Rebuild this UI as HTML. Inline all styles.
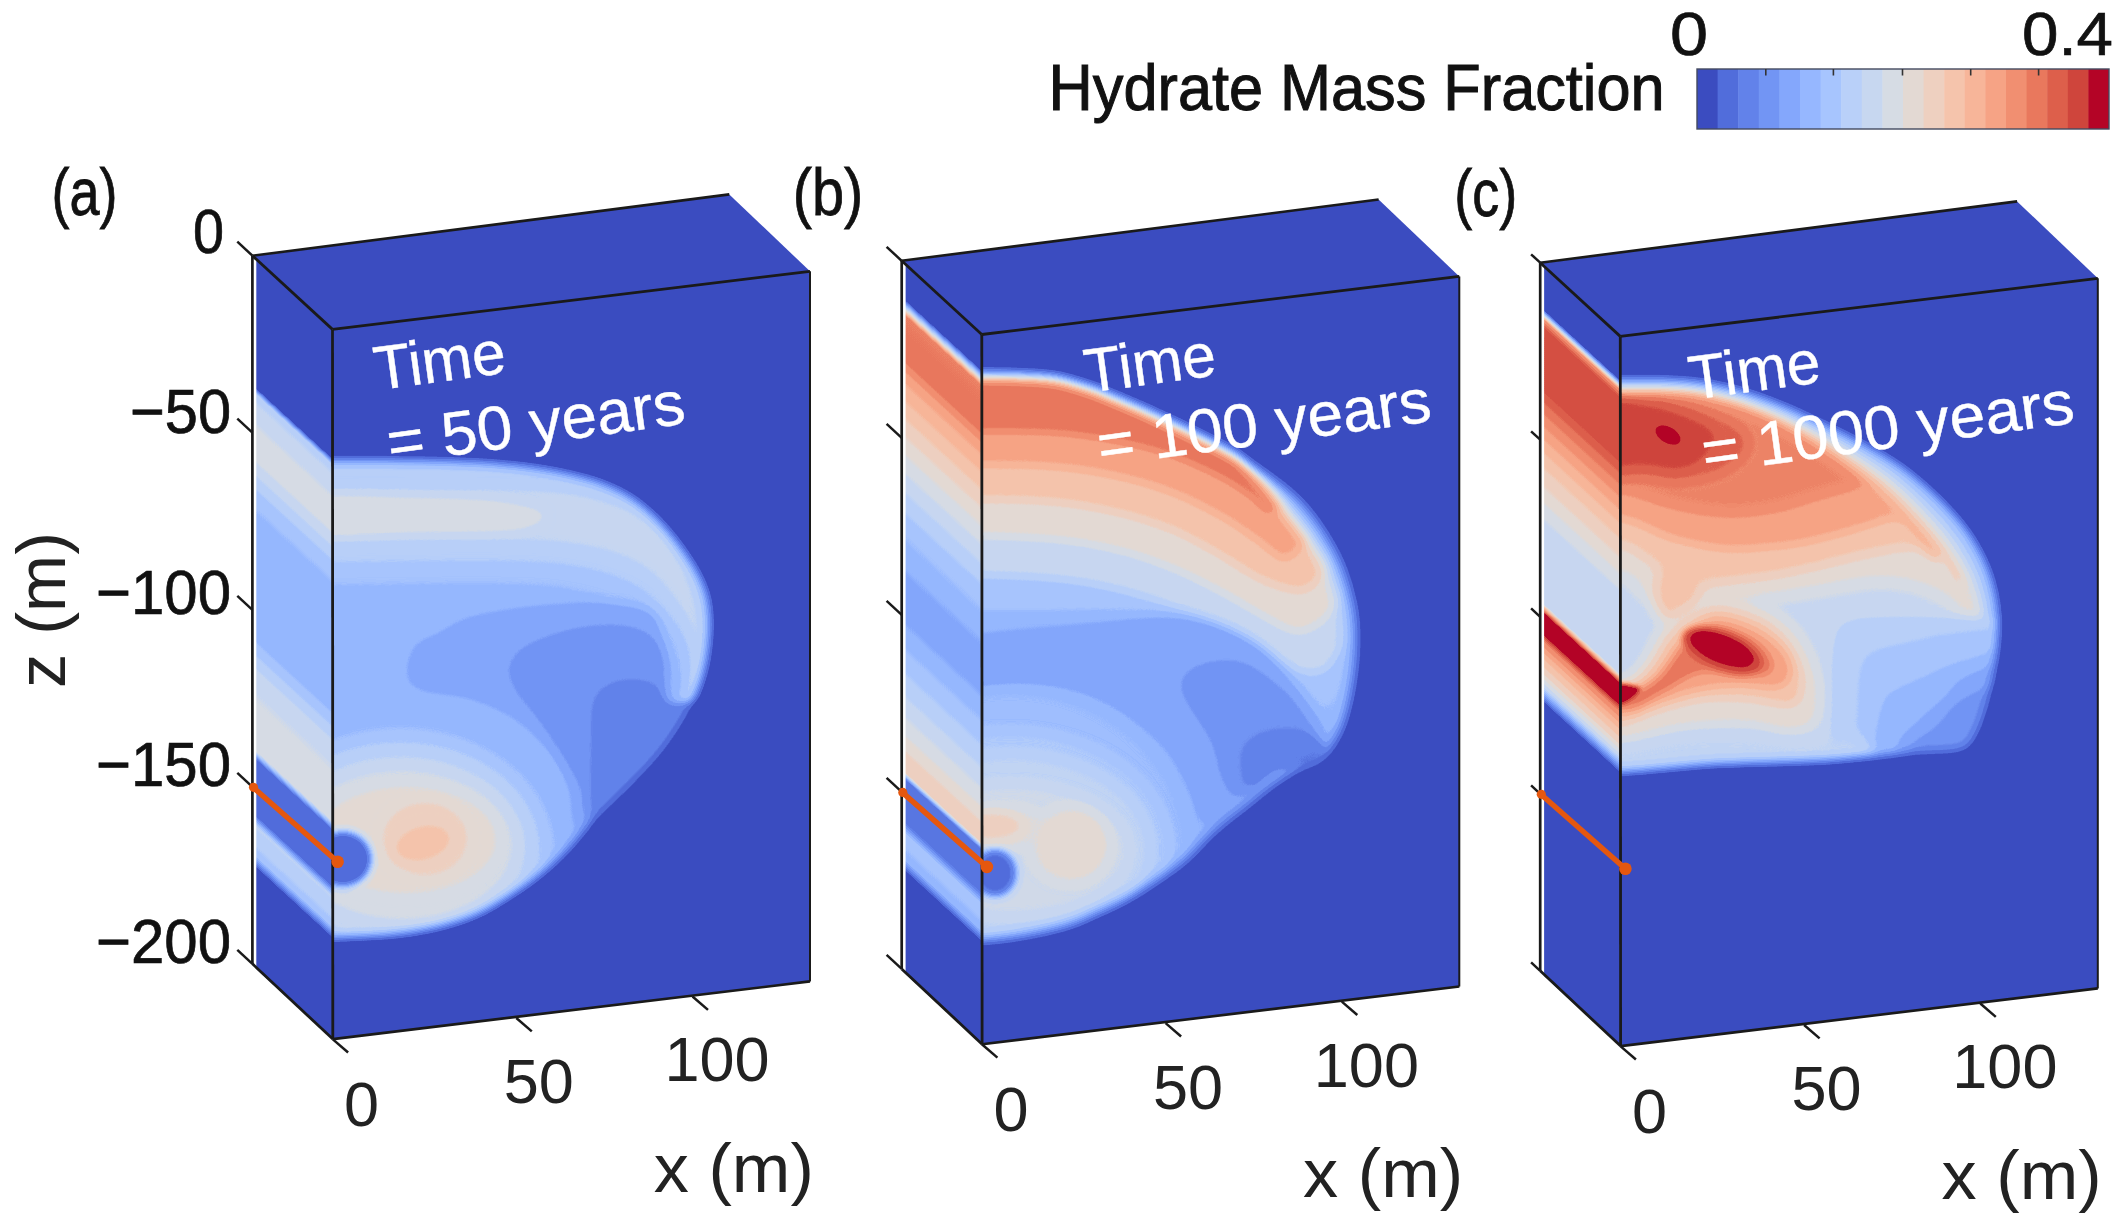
<!DOCTYPE html>
<html lang="en"><head><meta charset="utf-8"><title>Hydrate Mass Fraction</title>
<style>html,body{margin:0;padding:0;background:#fff;overflow:hidden}svg{display:block}text{font-family:"Liberation Sans",sans-serif}</style></head><body>
<svg width="2120" height="1222" viewBox="0 0 2120 1222">
<defs>
<filter id="cm" x="0" y="0" width="2120" height="1222" filterUnits="userSpaceOnUse" color-interpolation-filters="sRGB"><feComponentTransfer><feFuncR type="table" tableValues="0.2298 0.2298 0.2298 0.2298 0.3188 0.3188 0.3188 0.3188 0.3837 0.3837 0.3837 0.3837 0.4464 0.4464 0.4464 0.4464 0.5163 0.5163 0.5163 0.5163 0.5869 0.5869 0.5869 0.5869 0.6567 0.6567 0.6567 0.6567 0.7240 0.7240 0.7240 0.7240 0.7820 0.7820 0.7820 0.7820 0.8394 0.8394 0.8394 0.8394 0.8918 0.8918 0.8918 0.8918 0.9332 0.9332 0.9332 0.9332 0.9595 0.9595 0.9595 0.9595 0.9689 0.9689 0.9689 0.9689 0.9649 0.9649 0.9649 0.9649 0.9459 0.9459 0.9459 0.9459 0.9120 0.9120 0.9120 0.9120 0.8654 0.8654 0.8654 0.8654 0.8106 0.8106 0.8106 0.8106 0.7057 0.7057 0.7057 0.7057"/><feFuncG type="table" tableValues="0.2987 0.2987 0.2987 0.2987 0.4266 0.4266 0.4266 0.4266 0.5102 0.5102 0.5102 0.5102 0.5824 0.5824 0.5824 0.5824 0.6545 0.6545 0.6545 0.6545 0.7181 0.7181 0.7181 0.7181 0.7718 0.7718 0.7718 0.7718 0.8149 0.8149 0.8149 0.8149 0.8429 0.8429 0.8429 0.8429 0.8612 0.8612 0.8612 0.8612 0.8520 0.8520 0.8520 0.8520 0.8156 0.8156 0.8156 0.8156 0.7670 0.7670 0.7670 0.7670 0.7108 0.7108 0.7108 0.7108 0.6402 0.6402 0.6402 0.6402 0.5596 0.5596 0.5596 0.5596 0.4697 0.4697 0.4697 0.4697 0.3711 0.3711 0.3711 0.3711 0.2688 0.2688 0.2688 0.2688 0.0156 0.0156 0.0156 0.0156"/><feFuncB type="table" tableValues="0.7537 0.7537 0.7537 0.7537 0.8599 0.8599 0.8599 0.8599 0.9178 0.9178 0.9178 0.9178 0.9574 0.9574 0.9574 0.9574 0.9864 0.9864 0.9864 0.9864 0.9989 0.9989 0.9989 0.9989 0.9949 0.9949 0.9949 0.9949 0.9757 0.9757 0.9757 0.9757 0.9430 0.9430 0.9430 0.9430 0.8945 0.8945 0.8945 0.8945 0.8291 0.8291 0.8291 0.8291 0.7532 0.7532 0.7532 0.7532 0.6741 0.6741 0.6741 0.6741 0.5999 0.5999 0.5999 0.5999 0.5198 0.5198 0.5198 0.5198 0.4415 0.4415 0.4415 0.4415 0.3666 0.3666 0.3666 0.3666 0.2958 0.2958 0.2958 0.2958 0.2354 0.2354 0.2354 0.2354 0.1502 0.1502 0.1502 0.1502"/></feComponentTransfer></filter>
<filter id="b2" x="-400" y="-400" width="2920" height="2022" filterUnits="userSpaceOnUse" color-interpolation-filters="sRGB"><feGaussianBlur stdDeviation="2"/></filter>
<filter id="b3" x="-400" y="-400" width="2920" height="2022" filterUnits="userSpaceOnUse" color-interpolation-filters="sRGB"><feGaussianBlur stdDeviation="3"/></filter>
<filter id="b4" x="-400" y="-400" width="2920" height="2022" filterUnits="userSpaceOnUse" color-interpolation-filters="sRGB"><feGaussianBlur stdDeviation="4"/></filter>
<filter id="b4_5" x="-400" y="-400" width="2920" height="2022" filterUnits="userSpaceOnUse" color-interpolation-filters="sRGB"><feGaussianBlur stdDeviation="4.5"/></filter>
<filter id="b5" x="-400" y="-400" width="2920" height="2022" filterUnits="userSpaceOnUse" color-interpolation-filters="sRGB"><feGaussianBlur stdDeviation="5"/></filter>
<filter id="b5_5" x="-400" y="-400" width="2920" height="2022" filterUnits="userSpaceOnUse" color-interpolation-filters="sRGB"><feGaussianBlur stdDeviation="5.5"/></filter>
<filter id="b6" x="-400" y="-400" width="2920" height="2022" filterUnits="userSpaceOnUse" color-interpolation-filters="sRGB"><feGaussianBlur stdDeviation="6"/></filter>
<filter id="b7" x="-400" y="-400" width="2920" height="2022" filterUnits="userSpaceOnUse" color-interpolation-filters="sRGB"><feGaussianBlur stdDeviation="7"/></filter>
<filter id="b8" x="-400" y="-400" width="2920" height="2022" filterUnits="userSpaceOnUse" color-interpolation-filters="sRGB"><feGaussianBlur stdDeviation="8"/></filter>
<clipPath id="cf0"><polygon points="332.5,329.4 810.0,271.3 810.0,981.4 332.8,1039.1"/></clipPath>
<mask id="mk0" maskUnits="userSpaceOnUse" x="0" y="0" width="2120" height="1222"><g filter="url(#b4_5)"><path d="M290.0,461.0 C307.0,461.0 358.2,460.5 392.0,461.0 C425.8,461.5 463.3,461.7 493.0,464.0 C522.7,466.3 548.8,470.3 570.0,475.0 C591.2,479.7 605.8,484.8 620.0,492.0 C634.2,499.2 644.3,507.8 655.0,518.0 C665.7,528.2 676.0,541.5 684.0,553.0 C692.0,564.5 698.8,575.8 703.0,587.0 C707.2,598.2 708.7,607.2 709.0,620.0 C709.3,632.8 708.0,650.0 705.0,664.0 C702.0,678.0 697.5,690.5 691.0,704.0 C684.5,717.5 675.5,732.2 666.0,745.0 C656.5,757.8 646.2,768.3 634.0,781.0 C621.8,793.7 606.0,807.8 593.0,821.0 C580.0,834.2 568.7,848.5 556.0,860.0 C543.3,871.5 531.7,880.5 517.0,890.0 C502.3,899.5 486.3,910.0 468.0,917.0 C449.7,924.0 429.0,928.7 407.0,932.0 C385.0,935.3 355.5,936.0 336.0,937.0 C316.5,938.0 297.7,937.8 290.0,938.0Z" fill="#fff"/></g></mask>
<linearGradient id="sg0" gradientUnits="userSpaceOnUse" x1="0" y1="329.4" x2="0" y2="1039.1"><stop offset="-0.0006" stop-color="#000000"/><stop offset="0.1812" stop-color="#000000"/><stop offset="0.1911" stop-color="#616161"/><stop offset="0.2404" stop-color="#757575"/><stop offset="0.2615" stop-color="#7d7d7d"/><stop offset="0.2827" stop-color="#757575"/><stop offset="0.3320" stop-color="#545454"/><stop offset="0.3672" stop-color="#474747"/><stop offset="0.5292" stop-color="#444444"/><stop offset="0.5856" stop-color="#6b6b6b"/><stop offset="0.6490" stop-color="#7a7a7a"/><stop offset="0.6927" stop-color="#7a7a7a"/><stop offset="0.7054" stop-color="#131313"/><stop offset="0.7843" stop-color="#131313"/><stop offset="0.7998" stop-color="#666666"/><stop offset="0.8406" stop-color="#545454"/><stop offset="0.8590" stop-color="#000000"/><stop offset="1.0013" stop-color="#000000"/></linearGradient>
<clipPath id="cf1"><polygon points="981.8,334.5 1459.3,276.4 1459.3,986.5 982.1,1044.2"/></clipPath>
<mask id="mk1" maskUnits="userSpaceOnUse" x="0" y="0" width="2120" height="1222"><g filter="url(#b5_5)"><path d="M940.0,375.0 C956.2,375.3 1013.8,375.3 1037.0,377.0 C1060.2,378.7 1064.2,380.7 1079.0,385.0 C1093.8,389.3 1108.3,395.5 1126.0,403.0 C1143.7,410.5 1165.3,420.3 1185.0,430.0 C1204.7,439.7 1225.2,449.2 1244.0,461.0 C1262.8,472.8 1283.0,485.8 1298.0,501.0 C1313.0,516.2 1325.2,535.5 1334.0,552.0 C1342.8,568.5 1347.5,585.3 1351.0,600.0 C1354.5,614.7 1355.0,625.8 1355.0,640.0 C1355.0,654.2 1353.5,670.3 1351.0,685.0 C1348.5,699.7 1344.8,716.2 1340.0,728.0 C1335.2,739.8 1329.2,749.3 1322.0,756.0 C1314.8,762.7 1305.2,763.5 1297.0,768.0 C1288.8,772.5 1281.8,776.7 1273.0,783.0 C1264.2,789.3 1253.8,798.2 1244.0,806.0 C1234.2,813.8 1223.8,821.2 1214.0,830.0 C1204.2,838.8 1194.8,850.7 1185.0,859.0 C1175.2,867.3 1164.8,873.5 1155.0,880.0 C1145.2,886.5 1135.8,892.7 1126.0,898.0 C1116.2,903.3 1105.8,907.7 1096.0,912.0 C1086.2,916.3 1079.2,920.3 1067.0,924.0 C1054.8,927.7 1037.0,931.5 1023.0,934.0 C1009.0,936.5 996.8,938.0 983.0,939.0 C969.2,940.0 947.2,939.8 940.0,940.0Z" fill="#fff"/></g></mask>
<linearGradient id="sg1" gradientUnits="userSpaceOnUse" x1="0" y1="334.5" x2="0" y2="1044.2"><stop offset="-0.0007" stop-color="#000000"/><stop offset="0.0500" stop-color="#000000"/><stop offset="0.0726" stop-color="#cdcdcd"/><stop offset="0.1346" stop-color="#d2d2d2"/><stop offset="0.1599" stop-color="#b8b8b8"/><stop offset="0.2092" stop-color="#9e9e9e"/><stop offset="0.2586" stop-color="#858585"/><stop offset="0.3107" stop-color="#6b6b6b"/><stop offset="0.3685" stop-color="#515151"/><stop offset="0.4164" stop-color="#444444"/><stop offset="0.4586" stop-color="#373737"/><stop offset="0.5009" stop-color="#3c3c3c"/><stop offset="0.5573" stop-color="#515151"/><stop offset="0.5995" stop-color="#616161"/><stop offset="0.6559" stop-color="#7a7a7a"/><stop offset="0.6911" stop-color="#8f8f8f"/><stop offset="0.7165" stop-color="#8f8f8f"/><stop offset="0.7264" stop-color="#181818"/><stop offset="0.7870" stop-color="#181818"/><stop offset="0.8039" stop-color="#545454"/><stop offset="0.8391" stop-color="#474747"/><stop offset="0.8574" stop-color="#000000"/><stop offset="1.0011" stop-color="#000000"/></linearGradient>
<clipPath id="cf2"><polygon points="1620.3,336.4 2097.8,278.3 2097.8,988.4 1620.6,1046.1"/></clipPath>
<mask id="mk2" maskUnits="userSpaceOnUse" x="0" y="0" width="2120" height="1222"><g filter="url(#b4_5)"><path d="M1580.0,380.0 C1595.5,380.0 1648.8,378.8 1673.0,380.0 C1697.2,381.2 1708.3,383.3 1725.0,387.0 C1741.7,390.7 1757.8,396.3 1773.0,402.0 C1788.2,407.7 1801.5,414.2 1816.0,421.0 C1830.5,427.8 1846.2,435.5 1860.0,443.0 C1873.8,450.5 1886.3,457.0 1899.0,466.0 C1911.7,475.0 1924.7,486.0 1936.0,497.0 C1947.3,508.0 1958.5,520.0 1967.0,532.0 C1975.5,544.0 1982.2,557.0 1987.0,569.0 C1991.8,581.0 1994.3,592.5 1996.0,604.0 C1997.7,615.5 1997.5,626.5 1997.0,638.0 C1996.5,649.5 1995.0,661.3 1993.0,673.0 C1991.0,684.7 1988.2,697.5 1985.0,708.0 C1981.8,718.5 1978.2,729.2 1974.0,736.0 C1969.8,742.8 1969.0,746.3 1960.0,749.0 C1951.0,751.7 1933.8,751.0 1920.0,752.0 C1906.2,753.0 1891.3,753.8 1877.0,755.0 C1862.7,756.2 1848.5,758.0 1834.0,759.0 C1819.5,760.0 1804.5,760.5 1790.0,761.0 C1775.5,761.5 1761.5,761.5 1747.0,762.0 C1732.5,762.5 1717.5,763.0 1703.0,764.0 C1688.5,765.0 1673.3,766.8 1660.0,768.0 C1646.7,769.2 1636.3,770.2 1623.0,771.0 C1609.7,771.8 1587.2,772.7 1580.0,773.0Z" fill="#fff"/></g></mask>
<linearGradient id="sg2" gradientUnits="userSpaceOnUse" x1="0" y1="336.4" x2="0" y2="1046.1"><stop offset="-0.0006" stop-color="#000000"/><stop offset="0.0614" stop-color="#000000"/><stop offset="0.0755" stop-color="#c0c0c0"/><stop offset="0.0868" stop-color="#e7e7e7"/><stop offset="0.1770" stop-color="#e7e7e7"/><stop offset="0.2023" stop-color="#d2d2d2"/><stop offset="0.2376" stop-color="#b8b8b8"/><stop offset="0.2756" stop-color="#9e9e9e"/><stop offset="0.3122" stop-color="#8c8c8c"/><stop offset="0.3475" stop-color="#787878"/><stop offset="0.3714" stop-color="#6b6b6b"/><stop offset="0.4757" stop-color="#6b6b6b"/><stop offset="0.4898" stop-color="#ffffff"/><stop offset="0.5180" stop-color="#ffffff"/><stop offset="0.5292" stop-color="#cdcdcd"/><stop offset="0.5518" stop-color="#a9a9a9"/><stop offset="0.5743" stop-color="#8f8f8f"/><stop offset="0.5926" stop-color="#6b6b6b"/><stop offset="0.6166" stop-color="#000000"/><stop offset="1.0013" stop-color="#000000"/></linearGradient>
</defs>
<rect width="2120" height="1222" fill="#fff"/>
<g id="panel-a">
<polygon points="253.4,256.2 729.3,194.4 810.0,271.3 332.5,329.4" fill="#3b4cc0"/>
<g filter="url(#cm)"><g transform="matrix(1 0.92010 0 1 0 -305.933)"><rect x="256.3" y="329.4" width="76.7" height="709.7" fill="url(#sg0)"/></g></g>
<g clip-path="url(#cf0)"><g filter="url(#cm)"><rect x="327.5" y="266.3" width="487.5" height="777.8" fill="#000"/><g mask="url(#mk0)"><rect x="272.5" y="266.3" width="597.5" height="777.8" fill="#5b5b5b"/><g filter="url(#b4)"><path d="M290.0,487.0 C328.3,487.0 468.3,485.3 520.0,487.0 C571.7,488.7 578.7,491.5 600.0,497.0 C621.3,502.5 634.7,509.8 648.0,520.0 C661.3,530.2 671.8,544.7 680.0,558.0 C688.2,571.3 693.5,586.3 697.0,600.0 C700.5,613.7 701.0,626.7 701.0,640.0 C701.0,653.3 698.8,670.0 697.0,680.0 C695.2,690.0 689.5,694.7 690.0,700.0 C690.5,705.3 698.3,710.0 700.0,712.0 L790.0,742.0 L790.0,1010.0 L290.0,1010.0Z" fill="#686868"/></g><g filter="url(#b5)"><path d="M290.0,497.0 C311.7,490.5 385.0,495.5 420.0,496.0 C455.0,496.5 479.2,497.2 500.0,500.0 C520.8,502.8 541.7,507.8 545.0,513.0 C548.3,518.2 540.8,527.5 520.0,531.0 C499.2,534.5 458.3,533.3 420.0,534.0 C381.7,534.7 311.7,541.2 290.0,535.0 C268.3,528.8 268.3,503.5 290.0,497.0Z" fill="#787878"/></g><g filter="url(#b4)"><path d="M290.0,545.0 C325.0,544.7 450.8,542.3 500.0,543.0 C549.2,543.7 561.7,544.8 585.0,549.0 C608.3,553.2 625.5,559.5 640.0,568.0 C654.5,576.5 663.7,589.7 672.0,600.0 C680.3,610.3 686.0,620.0 690.0,630.0 C694.0,640.0 695.7,650.0 696.0,660.0 C696.3,670.0 694.0,682.7 692.0,690.0 C690.0,697.3 683.7,699.7 684.0,704.0 C684.3,708.3 692.3,714.0 694.0,716.0 L790.0,746.0 L790.0,1010.0 L290.0,1010.0Z" fill="#5b5b5b"/></g><g filter="url(#b4)"><path d="M290.0,567.0 C325.0,566.7 451.7,564.3 500.0,565.0 C548.3,565.7 558.0,567.2 580.0,571.0 C602.0,574.8 618.2,580.8 632.0,588.0 C645.8,595.2 654.8,605.3 663.0,614.0 C671.2,622.7 677.0,631.5 681.0,640.0 C685.0,648.5 686.5,656.3 687.0,665.0 C687.5,673.7 685.7,685.0 684.0,692.0 C682.3,699.0 676.3,702.3 677.0,707.0 C677.7,711.7 686.2,717.8 688.0,720.0 L790.0,750.0 L790.0,1010.0 L290.0,1010.0Z" fill="#4e4e4e"/></g><g filter="url(#b4)"><path d="M290.0,589.0 C325.0,588.7 452.5,586.3 500.0,587.0 C547.5,587.7 554.7,589.3 575.0,593.0 C595.3,596.7 609.2,602.5 622.0,609.0 C634.8,615.5 643.8,624.3 652.0,632.0 C660.2,639.7 666.7,647.3 671.0,655.0 C675.3,662.7 677.2,670.8 678.0,678.0 C678.8,685.2 677.3,692.7 676.0,698.0 C674.7,703.3 669.0,705.7 670.0,710.0 C671.0,714.3 680.0,721.7 682.0,724.0 L790.0,754.0 L790.0,1010.0 L290.0,1010.0Z" fill="#444444"/></g><g filter="url(#b5)"><path d="M414.0,650.0 C418.3,641.5 430.3,639.3 440.0,634.0 C449.7,628.7 455.3,622.5 472.0,618.0 C488.7,613.5 517.2,609.3 540.0,607.0 C562.8,604.7 590.7,603.2 609.0,604.0 C627.3,604.8 640.8,606.0 650.0,612.0 C659.2,618.0 660.8,630.7 664.0,640.0 C667.2,649.3 668.3,658.8 669.0,668.0 C669.7,677.2 667.5,687.7 668.0,695.0 C668.5,702.3 663.3,708.7 672.0,712.0 C680.7,715.3 715.3,705.3 720.0,715.0 C724.7,724.7 713.3,754.2 700.0,770.0 C686.7,785.8 658.3,796.7 640.0,810.0 C621.7,823.3 600.8,848.0 590.0,850.0 C579.2,852.0 578.3,832.3 575.0,822.0 C571.7,811.7 573.8,799.5 570.0,788.0 C566.2,776.5 560.8,764.5 552.0,753.0 C543.2,741.5 530.3,728.2 517.0,719.0 C503.7,709.8 489.2,703.7 472.0,698.0 C454.8,692.3 423.7,693.0 414.0,685.0 C404.3,677.0 409.7,658.5 414.0,650.0Z" fill="#373737"/></g><g filter="url(#b4)"><path d="M511.0,666.0 C513.0,658.8 518.3,652.0 529.0,646.0 C539.7,640.0 559.7,633.2 575.0,630.0 C590.3,626.8 608.5,625.8 621.0,627.0 C633.5,628.2 643.2,631.5 650.0,637.0 C656.8,642.5 659.7,651.2 662.0,660.0 C664.3,668.8 662.3,682.3 664.0,690.0 C665.7,697.7 662.7,702.3 672.0,706.0 C681.3,709.7 715.3,701.3 720.0,712.0 C724.7,722.7 711.7,755.3 700.0,770.0 C688.3,784.7 666.7,788.3 650.0,800.0 C633.3,811.7 610.7,838.2 600.0,840.0 C589.3,841.8 589.0,819.7 586.0,811.0 C583.0,802.3 585.8,797.7 582.0,788.0 C578.2,778.3 570.0,764.5 563.0,753.0 C556.0,741.5 547.7,729.7 540.0,719.0 C532.3,708.3 521.8,697.8 517.0,689.0 C512.2,680.2 509.0,673.2 511.0,666.0Z" fill="#2a2a2a"/></g><g filter="url(#b4)"><path d="M593.0,810.0 C591.8,793.3 592.7,758.0 593.0,740.0 C593.3,722.0 592.3,711.0 595.0,702.0 C597.7,693.0 602.8,689.5 609.0,686.0 C615.2,682.5 624.5,681.0 632.0,681.0 C639.5,681.0 648.2,682.3 654.0,686.0 C659.8,689.7 661.0,700.3 667.0,703.0 C673.0,705.7 680.3,701.7 690.0,702.0 C699.7,702.3 723.3,693.7 725.0,705.0 C726.7,716.3 712.5,754.2 700.0,770.0 C687.5,785.8 666.7,788.3 650.0,800.0 C633.3,811.7 609.5,838.3 600.0,840.0 C590.5,841.7 594.2,826.7 593.0,810.0Z" fill="#1d1d1d"/></g><g filter="url(#b6)"><ellipse cx="400.0" cy="852.0" rx="160.0" ry="130.0" transform="rotate(0.0 400.0 852.0)" fill="#4e4e4e"/></g><g filter="url(#b5)"><ellipse cx="400.0" cy="850.0" rx="145.0" ry="113.0" transform="rotate(0.0 400.0 850.0)" fill="#5b5b5b"/></g><g filter="url(#b5)"><ellipse cx="400.0" cy="848.0" rx="130.0" ry="96.0" transform="rotate(0.0 400.0 848.0)" fill="#686868"/></g><g filter="url(#b5)"><ellipse cx="402.0" cy="845.0" rx="114.0" ry="78.0" transform="rotate(0.0 402.0 845.0)" fill="#757575"/></g><g filter="url(#b5)"><ellipse cx="406.0" cy="840.0" rx="94.0" ry="57.0" transform="rotate(0.0 406.0 840.0)" fill="#828282"/></g><g filter="url(#b5)"><ellipse cx="425.0" cy="839.0" rx="46.0" ry="40.0" transform="rotate(0.0 425.0 839.0)" fill="#8f8f8f"/></g><g filter="url(#b4)"><ellipse cx="423.0" cy="843.0" rx="31.0" ry="20.0" transform="rotate(-15.0 423.0 843.0)" fill="#9c9c9c"/></g><g filter="url(#b3)"><ellipse cx="343.0" cy="859.0" rx="29.0" ry="28.0" transform="rotate(0.0 343.0 859.0)" fill="#101010"/></g></g></g></g>
<line x1="252.4" y1="255.7" x2="252.4" y2="963.8" stroke="#1a1a1a" stroke-width="2.7"/><line x1="252.4" y1="255.7" x2="729.3" y2="194.4" stroke="#1a1a1a" stroke-width="2.6"/><line x1="252.4" y1="255.7" x2="332.5" y2="329.4" stroke="#1a1a1a" stroke-width="2.8"/><line x1="332.5" y1="329.4" x2="810.0" y2="271.3" stroke="#1a1a1a" stroke-width="2.8"/><line x1="332.5" y1="329.4" x2="332.8" y2="1039.1" stroke="#1a1a1a" stroke-width="2.8"/><line x1="810.0" y1="271.3" x2="810.0" y2="981.4" stroke="#1a1a1a" stroke-width="2.0"/><line x1="332.8" y1="1039.1" x2="810.0" y2="981.4" stroke="#1a1a1a" stroke-width="2.6"/><line x1="252.4" y1="963.8" x2="332.8" y2="1039.1" stroke="#1a1a1a" stroke-width="2.8"/><line x1="237.3" y1="241.7" x2="252.4" y2="255.7" stroke="#1a1a1a" stroke-width="2.5"/><line x1="237.3" y1="418.7" x2="252.4" y2="432.7" stroke="#1a1a1a" stroke-width="2.5"/><line x1="237.3" y1="595.8" x2="252.4" y2="609.8" stroke="#1a1a1a" stroke-width="2.5"/><line x1="237.3" y1="772.8" x2="252.4" y2="786.8" stroke="#1a1a1a" stroke-width="2.5"/><line x1="237.3" y1="949.8" x2="252.4" y2="963.8" stroke="#1a1a1a" stroke-width="2.5"/><line x1="332.6" y1="1039.1" x2="348.1" y2="1052.5" stroke="#1a1a1a" stroke-width="2.5"/><line x1="516.3" y1="1018.0" x2="531.8" y2="1031.4" stroke="#1a1a1a" stroke-width="2.5"/><line x1="692.5" y1="996.5" x2="708.0" y2="1009.9" stroke="#1a1a1a" stroke-width="2.5"/><line x1="253.0" y1="787.3" x2="337.6" y2="861.8" stroke="#e5570f" stroke-width="5.4"/><circle cx="337.6" cy="861.8" r="6.3" fill="#e5570f"/><circle cx="253.5" cy="787.3" r="4.6" fill="#e5570f"/>
<text x="361.6" y="1125.8" font-size="63" text-anchor="middle" fill="#222">0</text><text x="538.8" y="1103.4" font-size="63" text-anchor="middle" fill="#222">50</text><text x="717.1" y="1081.4" font-size="63" text-anchor="middle" fill="#222">100</text><text x="653.8" y="1192.0" font-size="68" textLength="160" lengthAdjust="spacingAndGlyphs" fill="#222">x (m)</text>
<text x="51.6" y="214.5" font-size="66" textLength="66.0" lengthAdjust="spacingAndGlyphs" fill="#111" stroke="#111" stroke-width="0.8">(a)</text>
<g transform="translate(371.5 391.0) rotate(-7.8)" fill="#fff" stroke="#fff" stroke-width="0.4" font-size="62"><text x="5.5" y="0" textLength="132" lengthAdjust="spacingAndGlyphs">Time</text><text x="8.4" y="74.8" textLength="300.0" lengthAdjust="spacingAndGlyphs">= 50 years</text></g>
</g>
<g id="panel-b">
<polygon points="902.7,261.3 1378.6,199.5 1459.3,276.4 981.8,334.5" fill="#3b4cc0"/>
<g filter="url(#cm)"><g transform="matrix(1 0.92010 0 1 0 -903.354)"><rect x="905.6" y="334.5" width="76.7" height="709.7" fill="url(#sg1)"/></g></g>
<g clip-path="url(#cf1)"><g filter="url(#cm)"><rect x="976.8" y="271.4" width="487.5" height="777.8" fill="#000"/><g mask="url(#mk1)"><rect x="921.8" y="271.4" width="597.5" height="777.8" fill="#d2d2d2"/><g filter="url(#b5)"><path d="M930.0,433.0 C948.3,433.0 1010.0,431.7 1040.0,433.0 C1070.0,434.3 1088.3,437.2 1110.0,441.0 C1131.7,444.8 1151.7,449.8 1170.0,456.0 C1188.3,462.2 1206.7,471.2 1220.0,478.0 C1233.3,484.8 1242.0,491.3 1250.0,497.0 C1258.0,502.7 1262.2,510.7 1268.0,512.0 C1273.8,513.3 1278.8,508.7 1285.0,505.0 C1291.2,501.3 1301.7,492.5 1305.0,490.0 L1440.0,490.0 L1440.0,1010.0 L930.0,1010.0Z" fill="#b8b8b8"/></g><g filter="url(#b6)"><path d="M930.0,466.0 C948.3,466.2 1010.0,465.3 1040.0,467.0 C1070.0,468.7 1088.3,471.7 1110.0,476.0 C1131.7,480.3 1151.7,486.2 1170.0,493.0 C1188.3,499.8 1205.8,509.2 1220.0,517.0 C1234.2,524.8 1244.5,532.8 1255.0,540.0 C1265.5,547.2 1275.5,558.3 1283.0,560.0 C1290.5,561.7 1293.0,555.3 1300.0,550.0 C1307.0,544.7 1320.8,531.7 1325.0,528.0 L1440.0,528.0 L1440.0,1010.0 L930.0,1010.0Z" fill="#9e9e9e"/></g><g filter="url(#b6)"><path d="M930.0,500.0 C948.3,500.3 1010.0,500.0 1040.0,502.0 C1070.0,504.0 1088.3,507.3 1110.0,512.0 C1131.7,516.7 1151.7,522.7 1170.0,530.0 C1188.3,537.3 1205.0,547.7 1220.0,556.0 C1235.0,564.3 1246.7,574.0 1260.0,580.0 C1273.3,586.0 1290.0,592.0 1300.0,592.0 C1310.0,592.0 1312.5,585.7 1320.0,580.0 C1327.5,574.3 1340.8,561.7 1345.0,558.0 L1440.0,558.0 L1440.0,1010.0 L930.0,1010.0Z" fill="#858585"/></g><g filter="url(#b6)"><path d="M930.0,536.0 C948.3,536.5 1010.0,536.8 1040.0,539.0 C1070.0,541.2 1088.3,544.2 1110.0,549.0 C1131.7,553.8 1151.7,560.8 1170.0,568.0 C1188.3,575.2 1204.7,584.0 1220.0,592.0 C1235.3,600.0 1249.5,609.3 1262.0,616.0 C1274.5,622.7 1285.7,630.5 1295.0,632.0 C1304.3,633.5 1310.5,629.5 1318.0,625.0 C1325.5,620.5 1332.2,611.7 1340.0,605.0 C1347.8,598.3 1360.8,588.3 1365.0,585.0 L1440.0,585.0 L1440.0,1010.0 L930.0,1010.0Z" fill="#6b6b6b"/></g><g filter="url(#b6)"><path d="M930.0,574.0 C948.3,574.7 1010.0,575.7 1040.0,578.0 C1070.0,580.3 1088.3,583.3 1110.0,588.0 C1131.7,592.7 1151.7,599.3 1170.0,606.0 C1188.3,612.7 1204.7,620.3 1220.0,628.0 C1235.3,635.7 1248.7,644.7 1262.0,652.0 C1275.3,659.3 1289.5,669.0 1300.0,672.0 C1310.5,675.0 1317.5,673.7 1325.0,670.0 C1332.5,666.3 1337.5,656.7 1345.0,650.0 C1352.5,643.3 1365.8,633.3 1370.0,630.0 L1440.0,630.0 L1440.0,1010.0 L930.0,1010.0Z" fill="#515151"/></g><g filter="url(#b6)"><path d="M930.0,612.0 C948.3,612.0 1010.0,612.0 1040.0,612.0 C1070.0,612.0 1086.7,611.0 1110.0,612.0 C1133.3,613.0 1159.2,613.7 1180.0,618.0 C1200.8,622.3 1219.2,630.3 1235.0,638.0 C1250.8,645.7 1263.3,654.5 1275.0,664.0 C1286.7,673.5 1297.2,687.0 1305.0,695.0 C1312.8,703.0 1316.2,711.2 1322.0,712.0 C1327.8,712.8 1332.8,705.3 1340.0,700.0 C1347.2,694.7 1360.8,683.3 1365.0,680.0 L1440.0,680.0 L1440.0,1010.0 L930.0,1010.0Z" fill="#444444"/></g><g filter="url(#b7)"><path d="M1246.0,458.0 C1246.6,463.4 1262.0,478.8 1266.0,484.0 C1270.0,489.2 1280.4,502.6 1286.0,510.0 C1291.6,517.4 1316.7,548.7 1322.0,558.0 C1327.3,567.3 1336.9,594.8 1339.0,603.0 C1341.1,611.2 1343.0,632.0 1343.0,640.0 C1343.0,648.0 1340.5,674.6 1339.0,683.0 C1337.5,691.4 1321.9,718.3 1328.0,724.0 C1334.1,729.7 1392.8,769.4 1400.0,740.0 C1407.2,710.6 1414.0,461.0 1400.0,430.0 C1386.0,399.0 1275.4,427.2 1260.0,430.0 C1244.6,432.8 1245.4,452.6 1246.0,458.0Z" fill="#4c4c4c"/></g><g filter="url(#b6)"><path d="M930.0,645.0 C957.7,634.3 1053.5,628.5 1096.0,624.0 C1138.5,619.5 1159.3,615.3 1185.0,618.0 C1210.7,620.7 1232.5,629.7 1250.0,640.0 C1267.5,650.3 1278.7,666.3 1290.0,680.0 C1301.3,693.7 1312.7,710.3 1318.0,722.0 C1323.3,733.7 1326.7,742.8 1322.0,750.0 C1317.3,757.2 1302.0,757.5 1290.0,765.0 C1278.0,772.5 1263.7,785.0 1250.0,795.0 C1236.3,805.0 1218.0,826.0 1208.0,825.0 C1198.0,824.0 1196.3,801.0 1190.0,789.0 C1183.7,777.0 1178.3,763.8 1170.0,753.0 C1161.7,742.2 1152.3,733.3 1140.0,724.0 C1127.7,714.7 1113.2,703.5 1096.0,697.0 C1078.8,690.5 1064.7,686.5 1037.0,685.0 C1009.3,683.5 947.8,694.7 930.0,688.0 C912.2,681.3 902.3,655.7 930.0,645.0Z" fill="#373737"/></g><g filter="url(#b5)"><path d="M1184.0,690.0 C1181.5,678.0 1188.7,672.3 1198.0,668.0 C1207.3,663.7 1226.3,660.3 1240.0,664.0 C1253.7,667.7 1269.2,680.7 1280.0,690.0 C1290.8,699.3 1298.7,710.8 1305.0,720.0 C1311.3,729.2 1318.0,738.3 1318.0,745.0 C1318.0,751.7 1313.0,755.5 1305.0,760.0 C1297.0,764.5 1280.8,766.2 1270.0,772.0 C1259.2,777.8 1247.5,793.7 1240.0,795.0 C1232.5,796.3 1229.5,789.2 1225.0,780.0 C1220.5,770.8 1219.8,755.0 1213.0,740.0 C1206.2,725.0 1186.5,702.0 1184.0,690.0Z" fill="#282828"/></g><g filter="url(#b4)"><path d="M1245.0,752.0 C1247.5,743.5 1255.8,738.2 1265.0,735.0 C1274.2,731.8 1290.0,730.8 1300.0,733.0 C1310.0,735.2 1323.3,743.0 1325.0,748.0 C1326.7,753.0 1318.3,759.3 1310.0,763.0 C1301.7,766.7 1285.0,766.2 1275.0,770.0 C1265.0,773.8 1255.0,789.0 1250.0,786.0 C1245.0,783.0 1242.5,760.5 1245.0,752.0Z" fill="#1b1b1b"/></g><g filter="url(#b6)"><ellipse cx="1010.0" cy="850.0" rx="178.0" ry="162.0" transform="rotate(0.0 1010.0 850.0)" fill="#4c4c4c"/></g><g filter="url(#b5)"><ellipse cx="1010.0" cy="850.0" rx="160.0" ry="120.0" transform="rotate(0.0 1010.0 850.0)" fill="#595959"/></g><g filter="url(#b5)"><ellipse cx="1010.0" cy="850.0" rx="141.0" ry="97.0" transform="rotate(0.0 1010.0 850.0)" fill="#666666"/></g><g filter="url(#b5)"><ellipse cx="1010.0" cy="850.0" rx="120.0" ry="67.0" transform="rotate(0.0 1010.0 850.0)" fill="#737373"/></g><g filter="url(#b5)"><ellipse cx="1070.0" cy="845.0" rx="42.0" ry="40.0" transform="rotate(0.0 1070.0 845.0)" fill="#808080"/></g><g filter="url(#b5)"><ellipse cx="1005.0" cy="828.0" rx="45.0" ry="22.0" transform="rotate(0.0 1005.0 828.0)" fill="#808080"/></g><g filter="url(#b5)"><ellipse cx="1072.0" cy="845.0" rx="30.0" ry="30.0" transform="rotate(0.0 1072.0 845.0)" fill="#878787"/></g><g filter="url(#b5)"><ellipse cx="990.0" cy="826.0" rx="34.0" ry="16.0" transform="rotate(0.0 990.0 826.0)" fill="#8f8f8f"/></g><g filter="url(#b3)"><ellipse cx="995.0" cy="873.0" rx="22.0" ry="24.0" transform="rotate(0.0 995.0 873.0)" fill="#161616"/></g></g></g></g>
<line x1="901.7" y1="260.8" x2="901.7" y2="968.9" stroke="#1a1a1a" stroke-width="2.7"/><line x1="901.7" y1="260.8" x2="1378.6" y2="199.5" stroke="#1a1a1a" stroke-width="2.6"/><line x1="901.7" y1="260.8" x2="981.8" y2="334.5" stroke="#1a1a1a" stroke-width="2.8"/><line x1="981.8" y1="334.5" x2="1459.3" y2="276.4" stroke="#1a1a1a" stroke-width="2.8"/><line x1="981.8" y1="334.5" x2="982.1" y2="1044.2" stroke="#1a1a1a" stroke-width="2.8"/><line x1="1459.3" y1="276.4" x2="1459.3" y2="986.5" stroke="#1a1a1a" stroke-width="2.0"/><line x1="982.1" y1="1044.2" x2="1459.3" y2="986.5" stroke="#1a1a1a" stroke-width="2.6"/><line x1="901.7" y1="968.9" x2="982.1" y2="1044.2" stroke="#1a1a1a" stroke-width="2.8"/><line x1="886.6" y1="246.8" x2="901.7" y2="260.8" stroke="#1a1a1a" stroke-width="2.5"/><line x1="886.6" y1="423.8" x2="901.7" y2="437.8" stroke="#1a1a1a" stroke-width="2.5"/><line x1="886.6" y1="600.9" x2="901.7" y2="614.9" stroke="#1a1a1a" stroke-width="2.5"/><line x1="886.6" y1="777.9" x2="901.7" y2="791.9" stroke="#1a1a1a" stroke-width="2.5"/><line x1="886.6" y1="954.9" x2="901.7" y2="968.9" stroke="#1a1a1a" stroke-width="2.5"/><line x1="981.9" y1="1044.2" x2="997.4" y2="1057.6" stroke="#1a1a1a" stroke-width="2.5"/><line x1="1165.6" y1="1023.1" x2="1181.1" y2="1036.5" stroke="#1a1a1a" stroke-width="2.5"/><line x1="1341.8" y1="1001.6" x2="1357.3" y2="1015.0" stroke="#1a1a1a" stroke-width="2.5"/><line x1="902.3" y1="792.4" x2="986.9" y2="866.9" stroke="#e5570f" stroke-width="5.4"/><circle cx="986.9" cy="866.9" r="6.3" fill="#e5570f"/><circle cx="902.8" cy="792.4" r="4.6" fill="#e5570f"/>
<text x="1010.9" y="1130.9" font-size="63" text-anchor="middle" fill="#222">0</text><text x="1188.1" y="1108.5" font-size="63" text-anchor="middle" fill="#222">50</text><text x="1366.4" y="1086.5" font-size="63" text-anchor="middle" fill="#222">100</text><text x="1303.1" y="1197.1" font-size="68" textLength="160" lengthAdjust="spacingAndGlyphs" fill="#222">x (m)</text>
<text x="792.7" y="215.4" font-size="66" textLength="70.6" lengthAdjust="spacingAndGlyphs" fill="#111" stroke="#111" stroke-width="0.8">(b)</text>
<g transform="translate(1081.8 393.6) rotate(-7.8)" fill="#fff" stroke="#fff" stroke-width="0.4" font-size="62"><text x="5.5" y="0" textLength="132" lengthAdjust="spacingAndGlyphs">Time</text><text x="8.4" y="74.8" textLength="336.0" lengthAdjust="spacingAndGlyphs">= 100 years</text></g>
</g>
<g id="panel-c">
<polygon points="1541.2,263.2 2017.1,201.4 2097.8,278.3 1620.3,336.4" fill="#3b4cc0"/>
<g filter="url(#cm)"><g transform="matrix(1 0.92010 0 1 0 -1490.838)"><rect x="1544.1" y="336.4" width="76.7" height="709.7" fill="url(#sg2)"/></g></g>
<g clip-path="url(#cf2)"><g filter="url(#cm)"><rect x="1615.3" y="273.3" width="487.5" height="777.8" fill="#000"/><g mask="url(#mk2)"><rect x="1560.3" y="273.3" width="597.5" height="777.8" fill="#cdcdcd"/><g filter="url(#b5)"><path d="M1570.0,392.0 C1583.3,378.2 1628.3,392.3 1650.0,395.0 C1671.7,397.7 1685.0,402.5 1700.0,408.0 C1715.0,413.5 1732.2,421.0 1740.0,428.0 C1747.8,435.0 1750.0,442.7 1747.0,450.0 C1744.0,457.3 1733.2,466.7 1722.0,472.0 C1710.8,477.3 1693.7,481.0 1680.0,482.0 C1666.3,483.0 1658.3,478.7 1640.0,478.0 C1621.7,477.3 1581.7,492.3 1570.0,478.0 C1558.3,463.7 1556.7,405.8 1570.0,392.0Z" fill="#dcdcdc"/></g><g filter="url(#b4)"><path d="M1570.0,398.0 C1582.2,387.3 1624.0,399.5 1643.0,402.0 C1662.0,404.5 1672.5,408.8 1684.0,413.0 C1695.5,417.2 1706.5,422.0 1712.0,427.0 C1717.5,432.0 1719.0,436.8 1717.0,443.0 C1715.0,449.2 1706.8,459.2 1700.0,464.0 C1693.2,468.8 1685.5,471.3 1676.0,472.0 C1666.5,472.7 1660.7,469.0 1643.0,468.0 C1625.3,467.0 1582.2,477.7 1570.0,466.0 C1557.8,454.3 1557.8,408.7 1570.0,398.0Z" fill="#e9e9e9"/></g><g filter="url(#b6)"><path d="M1570.0,494.0 C1578.8,493.8 1605.8,490.7 1623.0,493.0 C1640.2,495.3 1656.0,504.2 1673.0,508.0 C1690.0,511.8 1708.3,515.3 1725.0,516.0 C1741.7,516.7 1758.5,514.5 1773.0,512.0 C1787.5,509.5 1799.2,504.7 1812.0,501.0 C1824.8,497.3 1839.0,493.0 1850.0,490.0 C1861.0,487.0 1869.7,483.5 1878.0,483.0 C1886.3,482.5 1892.2,489.2 1900.0,487.0 C1907.8,484.8 1920.8,472.8 1925.0,470.0 L2060.0,470.0 L2060.0,830.0 L1570.0,830.0Z" fill="#b8b8b8"/></g><g filter="url(#b6)"><path d="M1570.0,519.0 C1578.8,519.2 1605.8,516.5 1623.0,520.0 C1640.2,523.5 1656.0,535.0 1673.0,540.0 C1690.0,545.0 1708.3,548.7 1725.0,550.0 C1741.7,551.3 1758.5,549.3 1773.0,548.0 C1787.5,546.7 1799.2,544.7 1812.0,542.0 C1824.8,539.3 1837.8,535.5 1850.0,532.0 C1862.2,528.5 1875.3,523.7 1885.0,521.0 C1894.7,518.3 1900.2,519.2 1908.0,516.0 C1915.8,512.8 1924.2,506.7 1932.0,502.0 C1939.8,497.3 1951.2,490.3 1955.0,488.0 L2060.0,488.0 L2060.0,830.0 L1570.0,830.0Z" fill="#9e9e9e"/></g><g filter="url(#b7)"><path d="M1570.0,545.0 C1578.8,545.2 1608.0,541.8 1623.0,546.0 C1638.0,550.2 1648.0,563.5 1660.0,570.0 C1672.0,576.5 1684.2,582.8 1695.0,585.0 C1705.8,587.2 1712.0,584.3 1725.0,583.0 C1738.0,581.7 1758.5,579.3 1773.0,577.0 C1787.5,574.7 1798.3,572.2 1812.0,569.0 C1825.7,565.8 1840.5,561.3 1855.0,558.0 C1869.5,554.7 1886.8,550.7 1899.0,549.0 C1911.2,547.3 1919.2,551.2 1928.0,548.0 C1936.8,544.8 1943.7,535.7 1952.0,530.0 C1960.3,524.3 1973.7,516.7 1978.0,514.0 L2060.0,514.0 L2060.0,830.0 L1570.0,830.0Z" fill="#858585"/></g><g filter="url(#b8)"><path d="M1570.0,575.0 C1578.8,575.0 1609.7,570.8 1623.0,575.0 C1636.3,579.2 1638.8,593.7 1650.0,600.0 C1661.2,606.3 1673.8,612.7 1690.0,613.0 C1706.2,613.3 1726.7,605.7 1747.0,602.0 C1767.3,598.3 1790.3,594.5 1812.0,591.0 C1833.7,587.5 1859.0,581.7 1877.0,581.0 C1895.0,580.3 1907.0,582.7 1920.0,587.0 C1933.0,591.3 1945.8,597.8 1955.0,607.0 C1964.2,616.2 1967.5,637.8 1975.0,642.0 C1982.5,646.2 1995.8,633.7 2000.0,632.0 L2060.0,632.0 L2060.0,830.0 L1570.0,830.0Z" fill="#707070"/></g><g filter="url(#b6)"><path d="M1580.0,392.0 C1595.4,392.0 1648.8,390.5 1672.4,392.0 C1696.1,393.4 1706.2,396.5 1722.0,400.7 C1737.8,404.8 1753.2,410.6 1767.4,417.0 C1781.6,423.4 1794.2,430.8 1807.5,439.1 C1820.8,447.4 1835.3,457.5 1847.1,466.7 C1859.0,476.0 1868.7,484.6 1878.7,494.5 C1888.8,504.5 1898.1,515.4 1907.4,526.4 C1916.8,537.4 1930.2,554.8 1934.8,560.5 L1989.5,512.1 L1956.9,475.5 L1916.4,441.5 L1874.3,416.6 L1828.8,393.9 L1783.5,373.9 L1731.4,357.7 L1674.4,350.0 L1580.0,350.0Z" fill="#b3b3b3"/></g><g filter="url(#b6)"><path d="M1580.0,389.6 C1595.4,389.6 1648.8,388.2 1672.5,389.6 C1696.3,391.0 1706.6,393.9 1722.6,397.9 C1738.6,402.0 1754.1,407.7 1768.5,414.0 C1783.0,420.2 1795.6,427.5 1809.2,435.5 C1822.7,443.5 1837.4,453.1 1849.7,462.0 C1862.0,470.9 1872.2,479.1 1882.8,488.8 C1893.4,498.6 1903.8,510.0 1913.2,520.5 C1922.5,531.0 1931.3,541.3 1938.9,551.9 C1946.5,562.5 1955.5,578.8 1958.8,584.2 L2013.4,554.7 L1991.5,514.7 L1956.9,475.5 L1916.4,441.5 L1874.3,416.6 L1828.8,393.9 L1783.5,373.9 L1731.4,357.7 L1674.4,350.0 L1580.0,350.0Z" fill="#999999"/></g><g filter="url(#b5)"><path d="M1580.0,387.4 C1595.4,387.4 1648.8,386.1 1672.6,387.4 C1696.5,388.8 1707.0,391.5 1723.1,395.5 C1739.3,399.5 1754.9,405.2 1769.5,411.3 C1784.1,417.4 1797.0,424.5 1810.7,432.2 C1824.5,440.0 1839.4,449.1 1852.0,457.7 C1864.6,466.3 1875.4,474.1 1886.4,483.7 C1897.5,493.3 1908.5,504.6 1918.3,515.2 C1928.1,525.9 1937.6,536.9 1945.2,547.4 C1952.9,557.9 1959.1,567.9 1964.0,578.3 C1968.9,588.6 1972.7,604.3 1974.4,609.6 L2025.1,596.5 L2014.8,557.8 L1991.5,514.7 L1956.9,475.5 L1916.4,441.5 L1874.3,416.6 L1828.8,393.9 L1783.5,373.9 L1731.4,357.7 L1674.4,350.0 L1580.0,350.0Z" fill="#808080"/></g><g filter="url(#b5)"><path d="M1580.0,385.5 C1595.5,385.5 1648.8,384.2 1672.7,385.5 C1696.7,386.8 1707.3,389.4 1723.6,393.3 C1739.9,397.2 1755.7,402.9 1770.4,408.9 C1785.2,414.9 1798.1,421.8 1812.1,429.3 C1826.0,436.8 1841.1,445.6 1854.1,453.9 C1867.0,462.2 1878.2,469.7 1889.7,479.1 C1901.1,488.6 1912.7,499.8 1922.9,510.5 C1933.1,521.3 1943.0,532.5 1950.9,543.4 C1958.7,554.3 1965.1,565.4 1969.9,575.9 C1974.7,586.4 1977.4,596.1 1979.6,606.4 C1981.8,616.6 1983.0,626.5 1983.2,637.4 C1983.5,648.3 1981.5,665.9 1981.1,671.6 L2022.8,676.4 L2027.0,639.3 L2025.7,599.7 L2014.8,557.8 L1991.5,514.7 L1956.9,475.5 L1916.4,441.5 L1874.3,416.6 L1828.8,393.9 L1783.5,373.9 L1731.4,357.7 L1674.4,350.0 L1580.0,350.0Z" fill="#6b6b6b"/></g><g filter="url(#b4)"><path d="M1580.0,383.6 C1595.5,383.6 1648.8,382.3 1672.8,383.6 C1696.8,384.8 1707.7,387.3 1724.1,391.1 C1740.5,394.9 1756.4,400.6 1771.3,406.5 C1786.2,412.4 1799.3,419.2 1813.4,426.4 C1827.6,433.7 1842.9,442.1 1856.1,450.1 C1869.4,458.1 1881.0,465.3 1892.9,474.6 C1904.8,483.8 1916.8,495.0 1927.4,505.8 C1938.0,516.6 1948.4,528.2 1956.5,539.5 C1964.5,550.7 1971.1,562.5 1975.9,573.5 C1980.7,584.5 1983.3,594.9 1985.3,605.5 C1987.3,616.2 1988.0,626.6 1988.0,637.6 C1988.0,648.6 1986.9,660.3 1985.3,671.7 C1983.8,683.1 1981.4,695.7 1978.7,706.1 C1976.0,716.5 1970.6,729.4 1969.0,734.0 L2001.9,747.0 L2013.7,716.7 L2022.6,678.1 L2027.0,639.3 L2025.7,599.7 L2014.8,557.8 L1991.5,514.7 L1956.9,475.5 L1916.4,441.5 L1874.3,416.6 L1828.8,393.9 L1783.5,373.9 L1731.4,357.7 L1674.4,350.0 L1580.0,350.0Z" fill="#515151"/></g><g filter="url(#b7)"><ellipse cx="1678.0" cy="592.0" rx="24.0" ry="34.0" transform="rotate(0.0 1678.0 592.0)" fill="#9e9e9e"/></g><g filter="url(#b5)"><path d="M1830.0,790.0 C1830.2,775.0 1830.3,725.0 1831.0,700.0 C1831.7,675.0 1830.8,653.3 1834.0,640.0 C1837.2,626.7 1839.0,624.0 1850.0,620.0 C1861.0,616.0 1882.5,616.5 1900.0,616.0 C1917.5,615.5 1933.3,616.8 1955.0,617.0 C1976.7,617.2 2017.5,617.0 2030.0,617.0 L2030.0,790.0Z" fill="#5e5e5e"/></g><g filter="url(#b5)"><path d="M1856.0,790.0 C1856.2,778.3 1856.2,740.3 1857.0,720.0 C1857.8,699.7 1858.0,679.5 1861.0,668.0 C1864.0,656.5 1866.8,655.3 1875.0,651.0 C1883.2,646.7 1898.0,644.8 1910.0,642.0 C1922.0,639.2 1927.0,636.8 1947.0,634.0 C1967.0,631.2 2016.2,626.5 2030.0,625.0 L2030.0,790.0Z" fill="#545454"/></g><g filter="url(#b4)"><path d="M1870.0,790.0 C1870.5,782.5 1871.0,759.7 1873.0,745.0 C1875.0,730.3 1878.3,711.3 1882.0,702.0 C1885.7,692.7 1887.8,693.5 1895.0,689.0 C1902.2,684.5 1915.0,679.5 1925.0,675.0 C1935.0,670.5 1937.5,667.8 1955.0,662.0 C1972.5,656.2 2017.5,643.7 2030.0,640.0 L2030.0,790.0Z" fill="#474747"/></g><g filter="url(#b4)"><path d="M1893.0,790.0 C1893.8,782.3 1894.3,755.0 1898.0,744.0 C1901.7,733.0 1906.8,732.2 1915.0,724.0 C1923.2,715.8 1938.8,702.7 1947.0,695.0 C1955.2,687.3 1950.2,685.5 1964.0,678.0 C1977.8,670.5 2019.0,654.7 2030.0,650.0 L2030.0,790.0Z" fill="#373737"/></g><g filter="url(#b4)"><path d="M1903.0,790.0 C1903.8,783.7 1902.0,762.5 1908.0,752.0 C1914.0,741.5 1929.7,735.5 1939.0,727.0 C1948.3,718.5 1948.8,710.5 1964.0,701.0 C1979.2,691.5 2019.0,675.2 2030.0,670.0 L2030.0,790.0Z" fill="#282828"/></g><g filter="url(#b7)"><path d="M1570.0,680.0 C1578.8,668.7 1610.5,683.3 1623.0,680.0 C1635.5,676.7 1638.0,669.2 1645.0,660.0 C1652.0,650.8 1653.8,635.3 1665.0,625.0 C1676.2,614.7 1696.2,601.2 1712.0,598.0 C1727.8,594.8 1746.2,600.7 1760.0,606.0 C1773.8,611.3 1785.8,619.7 1795.0,630.0 C1804.2,640.3 1810.8,656.3 1815.0,668.0 C1819.2,679.7 1820.5,690.3 1820.0,700.0 C1819.5,709.7 1817.8,720.5 1812.0,726.0 C1806.2,731.5 1795.8,733.2 1785.0,733.0 C1774.2,732.8 1764.2,725.7 1747.0,725.0 C1729.8,724.3 1702.7,725.5 1682.0,729.0 C1661.3,732.5 1641.7,742.8 1623.0,746.0 C1604.3,749.2 1578.8,759.0 1570.0,748.0 C1561.2,737.0 1561.2,691.3 1570.0,680.0Z" fill="#858585"/></g><g filter="url(#b6)"><path d="M1570.0,684.0 C1578.8,677.2 1610.0,687.7 1623.0,685.0 C1636.0,682.3 1639.8,676.8 1648.0,668.0 C1656.2,659.2 1661.3,642.0 1672.0,632.0 C1682.7,622.0 1698.0,610.5 1712.0,608.0 C1726.0,605.5 1743.8,612.0 1756.0,617.0 C1768.2,622.0 1777.7,630.2 1785.0,638.0 C1792.3,645.8 1797.0,655.7 1800.0,664.0 C1803.0,672.3 1804.3,681.0 1803.0,688.0 C1801.7,695.0 1801.3,704.0 1792.0,706.0 C1782.7,708.0 1761.8,701.0 1747.0,700.0 C1732.2,699.0 1717.5,698.2 1703.0,700.0 C1688.5,701.8 1673.3,707.0 1660.0,711.0 C1646.7,715.0 1638.0,721.5 1623.0,724.0 C1608.0,726.5 1578.8,732.7 1570.0,726.0 C1561.2,719.3 1561.2,690.8 1570.0,684.0Z" fill="#9e9e9e"/></g><g filter="url(#b5)"><path d="M1600.0,688.0 C1605.0,684.3 1620.8,692.2 1630.0,690.0 C1639.2,687.8 1646.7,683.3 1655.0,675.0 C1663.3,666.7 1670.5,649.5 1680.0,640.0 C1689.5,630.5 1700.3,620.3 1712.0,618.0 C1723.7,615.7 1738.7,621.3 1750.0,626.0 C1761.3,630.7 1773.0,638.7 1780.0,646.0 C1787.0,653.3 1792.0,663.0 1792.0,670.0 C1792.0,677.0 1788.7,685.3 1780.0,688.0 C1771.3,690.7 1753.3,685.7 1740.0,686.0 C1726.7,686.3 1713.3,687.3 1700.0,690.0 C1686.7,692.7 1671.7,698.0 1660.0,702.0 C1648.3,706.0 1640.0,712.3 1630.0,714.0 C1620.0,715.7 1605.0,716.3 1600.0,712.0 C1595.0,707.7 1595.0,691.7 1600.0,688.0Z" fill="#b8b8b8"/></g><g filter="url(#b4)"><path d="M1610.0,692.0 C1613.7,690.0 1623.7,696.3 1632.0,694.0 C1640.3,691.7 1650.7,686.7 1660.0,678.0 C1669.3,669.3 1679.0,650.3 1688.0,642.0 C1697.0,633.7 1704.3,629.0 1714.0,628.0 C1723.7,627.0 1737.0,631.7 1746.0,636.0 C1755.0,640.3 1764.0,648.0 1768.0,654.0 C1772.0,660.0 1774.7,668.3 1770.0,672.0 C1765.3,675.7 1751.7,676.0 1740.0,676.0 C1728.3,676.0 1712.5,669.7 1700.0,672.0 C1687.5,674.3 1675.8,684.3 1665.0,690.0 C1654.2,695.7 1644.2,703.3 1635.0,706.0 C1625.8,708.7 1614.2,708.3 1610.0,706.0 C1605.8,703.7 1606.3,694.0 1610.0,692.0Z" fill="#d7d7d7"/></g><g filter="url(#b3)"><ellipse cx="1722.0" cy="650.0" rx="42.0" ry="19.0" transform="rotate(22.0 1722.0 650.0)" fill="#efefef"/></g><g filter="url(#b2)"><ellipse cx="1722.0" cy="649.0" rx="33.0" ry="13.0" transform="rotate(22.0 1722.0 649.0)" fill="#ffffff"/></g><g filter="url(#b2)"><path d="M1615.0,684.0 C1619.2,681.3 1637.5,685.3 1640.0,688.0 C1642.5,690.7 1634.2,697.3 1630.0,700.0 C1625.8,702.7 1617.5,706.7 1615.0,704.0 C1612.5,701.3 1610.8,686.7 1615.0,684.0Z" fill="#ffffff"/></g><g filter="url(#b2)"><ellipse cx="1668.0" cy="435.0" rx="14.0" ry="8.0" transform="rotate(30.0 1668.0 435.0)" fill="#ffffff"/></g><g filter="url(#b7)"><path d="M1570.0,744.0 C1578.8,734.7 1604.3,745.5 1623.0,744.0 C1641.7,742.5 1661.3,736.7 1682.0,735.0 C1702.7,733.3 1727.3,733.2 1747.0,734.0 C1766.7,734.8 1781.2,739.3 1800.0,740.0 C1818.8,740.7 1850.0,728.0 1860.0,738.0 C1870.0,748.0 1908.3,789.7 1860.0,800.0 C1811.7,810.3 1618.3,809.3 1570.0,800.0 C1521.7,790.7 1561.2,753.3 1570.0,744.0Z" fill="#666666"/></g></g></g></g>
<line x1="1540.2" y1="262.7" x2="1540.2" y2="970.8" stroke="#1a1a1a" stroke-width="2.7"/><line x1="1540.2" y1="262.7" x2="2017.1" y2="201.4" stroke="#1a1a1a" stroke-width="2.6"/><line x1="1540.2" y1="262.7" x2="1620.3" y2="336.4" stroke="#1a1a1a" stroke-width="2.8"/><line x1="1620.3" y1="336.4" x2="2097.8" y2="278.3" stroke="#1a1a1a" stroke-width="2.8"/><line x1="1620.3" y1="336.4" x2="1620.6" y2="1046.1" stroke="#1a1a1a" stroke-width="2.8"/><line x1="2097.8" y1="278.3" x2="2097.8" y2="988.4" stroke="#1a1a1a" stroke-width="2.0"/><line x1="1620.6" y1="1046.1" x2="2097.8" y2="988.4" stroke="#1a1a1a" stroke-width="2.6"/><line x1="1540.2" y1="970.8" x2="1620.6" y2="1046.1" stroke="#1a1a1a" stroke-width="2.8"/><line x1="1531.1" y1="254.3" x2="1540.2" y2="262.7" stroke="#1a1a1a" stroke-width="2.5"/><line x1="1531.1" y1="431.3" x2="1540.2" y2="439.7" stroke="#1a1a1a" stroke-width="2.5"/><line x1="1531.1" y1="608.4" x2="1540.2" y2="616.8" stroke="#1a1a1a" stroke-width="2.5"/><line x1="1531.1" y1="785.4" x2="1540.2" y2="793.8" stroke="#1a1a1a" stroke-width="2.5"/><line x1="1531.1" y1="962.4" x2="1540.2" y2="970.8" stroke="#1a1a1a" stroke-width="2.5"/><line x1="1620.4" y1="1046.1" x2="1635.9" y2="1059.5" stroke="#1a1a1a" stroke-width="2.5"/><line x1="1804.1" y1="1025.0" x2="1819.6" y2="1038.4" stroke="#1a1a1a" stroke-width="2.5"/><line x1="1980.3" y1="1003.5" x2="1995.8" y2="1016.9" stroke="#1a1a1a" stroke-width="2.5"/><line x1="1540.8" y1="794.3" x2="1625.4" y2="868.8" stroke="#e5570f" stroke-width="5.4"/><circle cx="1625.4" cy="868.8" r="6.3" fill="#e5570f"/><circle cx="1541.3" cy="794.3" r="4.6" fill="#e5570f"/>
<text x="1649.4" y="1132.8" font-size="63" text-anchor="middle" fill="#222">0</text><text x="1826.6" y="1110.4" font-size="63" text-anchor="middle" fill="#222">50</text><text x="2004.9" y="1088.4" font-size="63" text-anchor="middle" fill="#222">100</text><text x="1941.6" y="1199.0" font-size="68" textLength="160" lengthAdjust="spacingAndGlyphs" fill="#222">x (m)</text>
<text x="1454.3" y="216.0" font-size="66" textLength="63.0" lengthAdjust="spacingAndGlyphs" fill="#111" stroke="#111" stroke-width="0.8">(c)</text>
<g transform="translate(1686.3 400.5) rotate(-7.8)" fill="#fff" stroke="#fff" stroke-width="0.4" font-size="62"><text x="5.5" y="0" textLength="132" lengthAdjust="spacingAndGlyphs">Time</text><text x="8.4" y="74.8" textLength="375.0" lengthAdjust="spacingAndGlyphs">= 1000 years</text></g>
</g>
<text x="193.0" y="253.0" font-size="63" textLength="31" lengthAdjust="spacingAndGlyphs" fill="#111" stroke="#111" stroke-width="0.7">0</text><text x="130.0" y="433.0" font-size="63" textLength="101" lengthAdjust="spacingAndGlyphs" fill="#111" stroke="#111" stroke-width="0.7">−50</text><text x="96.0" y="614.0" font-size="63" textLength="135" lengthAdjust="spacingAndGlyphs" fill="#111" stroke="#111" stroke-width="0.7">−100</text><text x="96.0" y="786.0" font-size="63" textLength="135" lengthAdjust="spacingAndGlyphs" fill="#111" stroke="#111" stroke-width="0.7">−150</text><text x="96.0" y="963.0" font-size="63" textLength="135" lengthAdjust="spacingAndGlyphs" fill="#111" stroke="#111" stroke-width="0.7">−200</text>
<text transform="translate(65 688) rotate(-90)" font-size="68" textLength="156" lengthAdjust="spacingAndGlyphs" fill="#222">z (m)</text>
<g id="colorbar"><rect x="1697.00" y="69.0" width="21.10" height="60.0" fill="#3b4cc0"/><rect x="1717.60" y="69.0" width="21.10" height="60.0" fill="#516ddb"/><rect x="1738.20" y="69.0" width="21.10" height="60.0" fill="#6282ea"/><rect x="1758.80" y="69.0" width="21.10" height="60.0" fill="#7295f4"/><rect x="1779.40" y="69.0" width="21.10" height="60.0" fill="#84a7fc"/><rect x="1800.00" y="69.0" width="21.10" height="60.0" fill="#96b7ff"/><rect x="1820.60" y="69.0" width="21.10" height="60.0" fill="#a7c5fe"/><rect x="1841.20" y="69.0" width="21.10" height="60.0" fill="#b9d0f9"/><rect x="1861.80" y="69.0" width="21.10" height="60.0" fill="#c7d7f0"/><rect x="1882.40" y="69.0" width="21.10" height="60.0" fill="#d6dce4"/><rect x="1903.00" y="69.0" width="21.10" height="60.0" fill="#e3d9d3"/><rect x="1923.60" y="69.0" width="21.10" height="60.0" fill="#eed0c0"/><rect x="1944.20" y="69.0" width="21.10" height="60.0" fill="#f5c4ac"/><rect x="1964.80" y="69.0" width="21.10" height="60.0" fill="#f7b599"/><rect x="1985.40" y="69.0" width="21.10" height="60.0" fill="#f6a385"/><rect x="2006.00" y="69.0" width="21.10" height="60.0" fill="#f18f71"/><rect x="2026.60" y="69.0" width="21.10" height="60.0" fill="#e9785d"/><rect x="2047.20" y="69.0" width="21.10" height="60.0" fill="#dd5f4b"/><rect x="2067.80" y="69.0" width="21.10" height="60.0" fill="#cf453c"/><rect x="2088.40" y="69.0" width="20.60" height="60.0" fill="#b40426"/><rect x="1697.0" y="69.0" width="412.0" height="60.0" fill="none" stroke="#444a60" stroke-width="1.4"/><line x1="1765.8" y1="69.0" x2="1765.8" y2="75.5" stroke="#333" stroke-width="1.6"/><line x1="1833.4" y1="69.0" x2="1833.4" y2="75.5" stroke="#333" stroke-width="1.6"/><line x1="1902.5" y1="69.0" x2="1902.5" y2="75.5" stroke="#333" stroke-width="1.6"/><line x1="1970.7" y1="69.0" x2="1970.7" y2="75.5" stroke="#333" stroke-width="1.6"/><line x1="2038.6" y1="69.0" x2="2038.6" y2="75.5" stroke="#333" stroke-width="1.6"/></g>
<text x="1048.6" y="110.3" font-size="64" textLength="616" lengthAdjust="spacingAndGlyphs" fill="#111" stroke="#111" stroke-width="1">Hydrate Mass Fraction</text>
<text x="1670" y="55.4" font-size="61" textLength="38" lengthAdjust="spacingAndGlyphs" fill="#111" stroke="#111" stroke-width="0.7">0</text><text x="2022" y="55.4" font-size="61" textLength="91" lengthAdjust="spacingAndGlyphs" fill="#111" stroke="#111" stroke-width="0.7">0.4</text>
</svg>
</body></html>
